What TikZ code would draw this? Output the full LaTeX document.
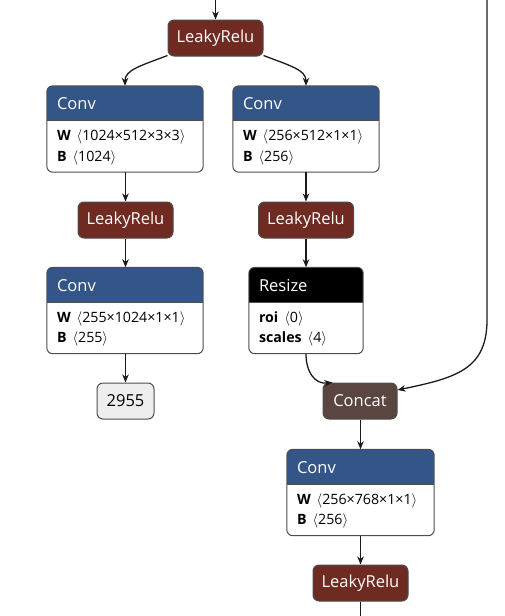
\documentclass[tikz,border=0pt]{standalone}
\usepackage{fontspec}
\setmainfont{Open Sans}
\usetikzlibrary{calc,arrows.meta}
\definecolor{actred}{HTML}{6F2A21}
\definecolor{convblue}{HTML}{335588}
\definecolor{concatbr}{HTML}{5A4540}
\definecolor{bordergray}{HTML}{4D4D4D}
\definecolor{constfill}{HTML}{EEEEEE}
\definecolor{edgeblack}{HTML}{1A1A1A}
\tikzset{
  opbase/.style={draw=bordergray, line width=1pt, rounded corners=6pt, inner sep=0pt, minimum height=36pt},
  simple/.style={opbase, text=white, font=\fontsize{16.5}{19}\selectfont},
  act/.style={simple, fill=actred, minimum width=95pt},
  concatnode/.style={simple, fill=concatbr, minimum width=74pt},
  constnode/.style={opbase, fill=constfill, text=black, minimum width=57pt, font=\fontsize{16.5}{19}\selectfont},
  framebox/.style={draw=none, minimum height=86pt, inner sep=0pt},
  titletext/.style={anchor=west, text=white, inner sep=0pt, font=\fontsize{16.5}{19}\selectfont},
  rowtext/.style={anchor=west, inner sep=0pt, text=black, font=\fontsize{14.2}{17}\selectfont},
  edge/.style={draw=edgeblack, line width=1.3pt, -{Stealth[length=8pt,width=6.5pt,inset=2.5pt]}},
  plainedge/.style={draw=edgeblack, line width=1.3pt},
}
\newcommand\opbox[8]{%
  \node[framebox, minimum width=#4pt] (#1) at (#2,-#3-43) {};
  \begin{scope}
    \clip[rounded corners=6pt] (#1.south west) rectangle (#1.north east);
    \fill[white] (#1.south west) rectangle (#1.north east);
    \fill[#5] ($(#1.north west)+(0,-35)$) rectangle (#1.north east);
  \end{scope}
  \draw[draw=bordergray, line width=1pt, rounded corners=6pt] (#1.south west) rectangle (#1.north east);
  \draw[draw=bordergray, line width=1pt] ($(#1.north west)+(0,-35)$) -- ($(#1.north east)+(0,-35)$);
  \node[titletext] (#1t) at ($(#1.north west)+(10,-18)$) {#6};
  \node[rowtext] (#1a) at ($(#1.north west)+(10,-51.5)$) {#7};
  \node[rowtext] (#1b) at ($(#1.north west)+(10,-72)$) {#8};
}
\newcommand\wrow[2]{{\bfseries #1}\hspace{6pt}$\langle$#2$\rangle$}
\begin{document}
\begin{tikzpicture}[x=1pt,y=1pt]
\useasboundingbox (0,0) rectangle (504,-616);
% simple nodes
\node[act] (lr0) at (215.5,-38) {LeakyRelu};
\node[act] (lr1) at (125.5,-220) {LeakyRelu};
\node[act] (lr2) at (306,-220) {LeakyRelu};
\node[constnode] (k2955) at (125.5,-401) {2955};
\node[concatnode] (cc) at (360,-401) {Concat};
\node[act] (lr4) at (360.5,-583) {LeakyRelu};
% boxes
\opbox{c1}{125}{86}{156}{convblue}{Conv}{\wrow{W}{1024×512×3×3}}{\wrow{B}{1024}}
\opbox{c2}{306}{86}{146}{convblue}{Conv}{\wrow{W}{256×512×1×1}}{\wrow{B}{256}}
\opbox{c3}{125}{267.5}{156}{convblue}{Conv}{\wrow{W}{255×1024×1×1}}{\wrow{B}{255}}
\opbox{rs}{306}{267.5}{114}{black}{Resize}{\wrow{roi}{0}}{\wrow{scales}{4}}
\opbox{c4}{360.5}{449.5}{147}{convblue}{Conv}{\wrow{W}{256×768×1×1}}{\wrow{B}{256}}
% free ends
\coordinate (in0) at (215.5,0);
\coordinate (in1) at (487,0);
\coordinate (out0) at (360.5,-616);
% edges
\draw[edge] (in0) -- (lr0);
\draw[edge] ($(lr0.south west)+(0,1)$) .. controls (140,-66) and (125,-70) .. (c1.north);
\draw[edge] ($(lr0.south east)+(0,1)$) .. controls (291,-66) and (306,-70) .. (c2.north);
\draw[edge] (c1.south -| lr1.north) -- (lr1.north);
\draw[edge] (c2.south -| lr2.north) -- (lr2.north);
\draw[edge] (lr1.south) -- (c3.north -| lr1.south);
\draw[edge] (lr2.south) -- (rs.north);
\draw[edge] (c3.south -| k2955.north) -- (k2955.north);
\draw[edge] (rs.south) .. controls ($(rs.south)+(0,-18)$) and ($(cc.north west)+(-8,-2)$) .. ($(cc.north west)+(10,0)$);
\draw[edge] (in1) -- (487,-320) .. controls (487,-370) and (455,-378) .. ($(cc.east)+(0,11)$);
\draw[edge] (cc.south -| c4.north) -- (c4.north);
\draw[edge] (c4.south) -- (lr4.north -| c4.south);
\draw[plainedge] (lr4.south) -- (out0);
\end{tikzpicture}
\end{document}
